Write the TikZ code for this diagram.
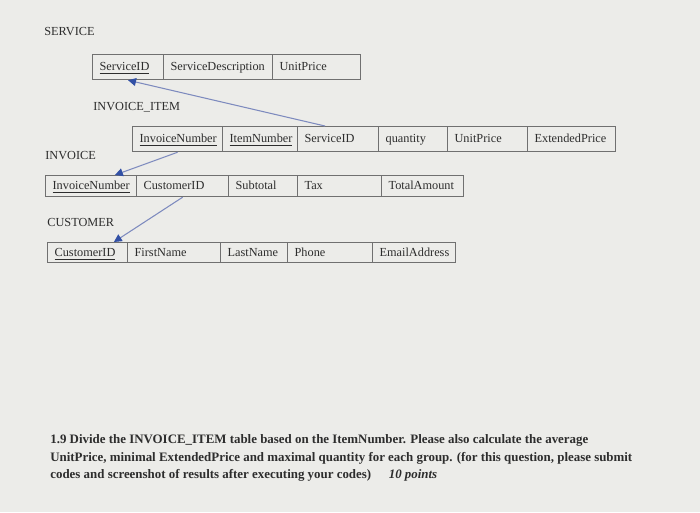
\documentclass[tikz,border=0pt]{standalone}
\usepackage{fontspec}
\setmainfont{Liberation Serif}
\usetikzlibrary{arrows.meta}
\definecolor{paper}{RGB}{236,236,233}
\definecolor{inkgray}{RGB}{45,45,45}
\definecolor{linegray}{RGB}{112,112,112}
\definecolor{keyline}{RGB}{125,138,190}
\definecolor{keytip}{RGB}{50,80,165}
\tikzset{
  cell/.style={draw=linegray, line width=0.7pt, anchor=north west, inner xsep=0.14cm, inner ysep=0pt,
    align=left, text width=#1, text height=5.2pt, text depth=0.8pt,
    font=\fontsize{7}{8}\selectfont, text=inkgray},
  title/.style={anchor=west, inner sep=0pt, font=\fontsize{7}{8}\selectfont, text=inkgray},
  fk/.style={draw=keyline, line width=0.6pt, -{Triangle[length=4.5pt,width=4.5pt,color=keytip]}}
}

\begin{document}
\begin{tikzpicture}[x=0.02cm, y=-0.02cm]
  \fill[paper] (0,0) rectangle (700,512);
  \useasboundingbox (0,0) rectangle (700,512);
  % Table names
  \node[title] (service) at (44,32) {SERVICE};
  \node[title] (invoiceitem) at (93,107) {INVOICE\_ITEM};
  \node[title] (invoice) at (45,156) {INVOICE};
  \node[title] (customer) at (47,222) {CUSTOMER};
  % SERVICE
  \node[cell=1.14cm, minimum height=0.5cm] (s1) at (92,54) {\underline{ServiceID}};
  \node[cell=1.90cm, minimum height=0.5cm] (s2) at (163,54) {ServiceDescription};
  \node[cell=1.48cm, minimum height=0.5cm] (s3) at (272,54) {UnitPrice};
  % INVOICE_ITEM
  \node[cell=1.52cm, minimum height=0.5cm] (i1) at (132,126) {\underline{InvoiceNumber}};
  \node[cell=1.22cm, minimum height=0.5cm] (i2) at (222,126) {\underline{ItemNumber}};
  \node[cell=1.34cm, minimum height=0.5cm] (i3) at (297,126) {ServiceID};
  \node[cell=1.10cm, minimum height=0.5cm] (i4) at (378,126) {quantity};
  \node[cell=1.32cm, minimum height=0.5cm] (i5) at (447,126) {UnitPrice};
  \node[cell=1.48cm, minimum height=0.5cm] (i6) at (527,126) {ExtendedPrice};
  % INVOICE
  \node[cell=1.54cm, minimum height=0.42cm] (v1) at (45,175) {\underline{InvoiceNumber}};
  \node[cell=1.56cm, minimum height=0.42cm] (v2) at (136,175) {CustomerID};
  \node[cell=1.10cm, minimum height=0.42cm] (v3) at (228,175) {Subtotal};
  \node[cell=1.40cm, minimum height=0.42cm] (v4) at (297,175) {Tax};
  \node[cell=1.36cm, minimum height=0.42cm] (v5) at (381,175) {TotalAmount};
  % CUSTOMER
  \node[cell=1.32cm, minimum height=0.4cm] (c1) at (47,242) {\underline{CustomerID}};
  \node[cell=1.58cm, minimum height=0.4cm] (c2) at (127,242) {FirstName};
  \node[cell=1.06cm, minimum height=0.4cm] (c3) at (220,242) {LastName};
  \node[cell=1.42cm, minimum height=0.4cm] (c4) at (287,242) {Phone};
  \node[cell=1.38cm, minimum height=0.4cm] (c5) at (372,242) {EmailAddress};
  % Draw the foreign keys
  \draw[fk] (i3.135) -- (s1.south);
  \draw[fk] (i1.south) -- (v1.25);
  \draw[fk] (v2.south) -- (c1.22);
  % Question
  \node[anchor=west, inner sep=0pt, align=left, text=inkgray,
    font=\fontsize{7.35}{9.9}\selectfont\bfseries] (question) at (50,458)
    {1.9 Divide the INVOICE\_ITEM table based on the ItemNumber. Please also calculate the average\\
     UnitPrice, minimal ExtendedPrice and maximal quantity for each group. (for this question, please submit\\
     codes and screenshot of results after executing your codes)\hspace{10pt}\textit{10 points}};
\end{tikzpicture}
\end{document}
